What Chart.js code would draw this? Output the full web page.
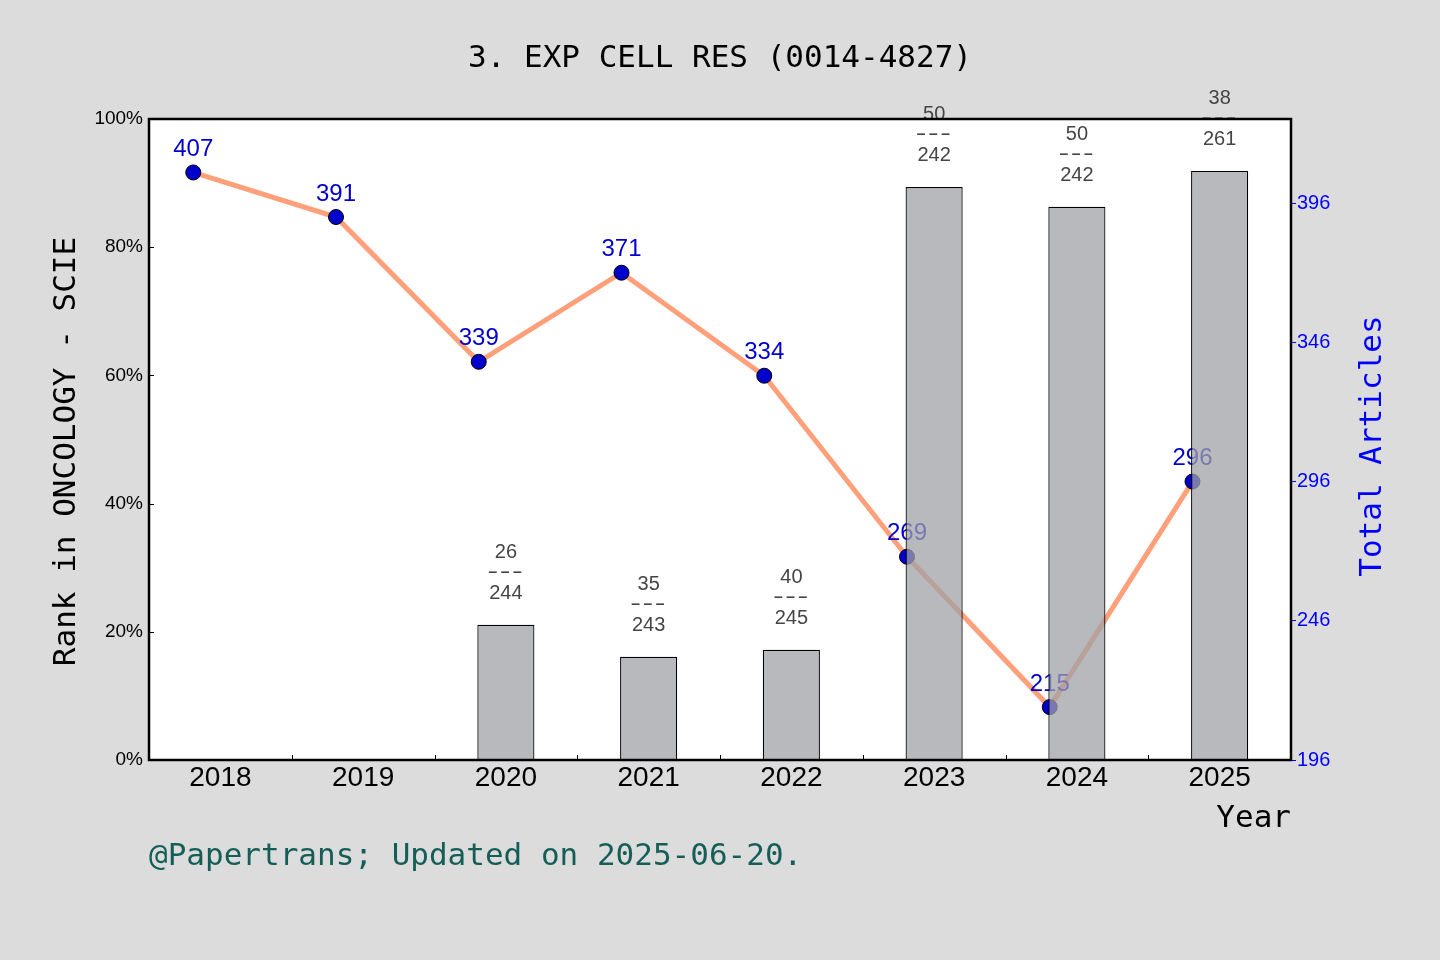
<!DOCTYPE html>
<html><head><meta charset="utf-8">
<script src="https://cdn.jsdelivr.net/npm/chart.js@4.4.1/dist/chart.umd.min.js"></script>
<style>html,body{margin:0;padding:0;background:#dcdcdc;overflow:hidden}</style>
</head><body>
<canvas id="c" width="1440" height="960"></canvas>
<script>
const years = ['2018','2019','2020','2021','2022','2023','2024','2025'];
const rankPct = [null, null, 21.1, 16.1, 17.2, 89.4, 86.3, 91.9];
const rankNum = [null, null, 26, 35, 40, 50, 50, 38];
const rankTotal = [null, null, 244, 243, 245, 242, 242, 261];
const totalArticles = [407, 391, 339, 371, 334, 269, 215, 296];
const leftTicks = [0, 20, 40, 60, 80, 100];
const rightTicks = [196, 246, 296, 346, 396];

const titleText = '3. EXP CELL RES (0014-4827)';
const leftTitle = 'Rank in ONCOLOGY - SCIE';
const rightTitle = 'Total Articles';
const xTitle = 'Year';
const footerText = '@Papertrans; Updated on 2025-06-20.';

const MONO = '31px "DejaVu Sans Mono", "Liberation Mono", monospace';
const SANS = '"Liberation Sans", Arial, sans-serif';

const deco = {
  id: 'deco',
  beforeDraw(chart) {
    const {ctx, chartArea: a} = chart;
    ctx.save();
    ctx.fillStyle = '#dcdcdc';
    ctx.fillRect(0, 0, chart.width, chart.height);
    ctx.fillStyle = '#ffffff';
    ctx.fillRect(a.left, a.top, a.right - a.left, a.bottom - a.top);
    ctx.restore();
  },
  afterDatasetDraw(chart, args) {
    if (chart.data.datasets[args.index].type !== 'line') return;
    const ctx = chart.ctx;
    ctx.save();
    ctx.font = '24px ' + SANS;
    ctx.fillStyle = '#0000cd';
    ctx.textAlign = 'center';
    ctx.textBaseline = 'middle';
    args.meta.data.forEach((el, i) => {
      ctx.fillText(String(totalArticles[i]), el.x, el.y - 23);
    });
    ctx.restore();
  },
  afterDatasetsDraw(chart) {
    const ctx = chart.ctx;
    const meta = chart.getDatasetMeta(0);
    ctx.save();
    ctx.font = '20px ' + SANS;
    ctx.fillStyle = '#454545';
    ctx.textAlign = 'center';
    ctx.textBaseline = 'middle';
    meta.data.forEach((el, i) => {
      if (rankNum[i] == null) return;
      const x = el.x, top = el.y;
      ctx.fillText(String(rankNum[i]), x, top - 72);
      ctx.save();
      ctx.translate(x, top - 52);
      ctx.scale(1.6, 1);
      ctx.letterSpacing = '1px';
      ctx.fillText('---', 0, 0);
      ctx.restore();
      ctx.fillText(String(rankTotal[i]), x, top - 31);
    });
    ctx.restore();
  },
  afterDraw(chart) {
    const {ctx, chartArea: a, scales} = chart;
    ctx.save();
    // inner tick marks
    ctx.strokeStyle = '#000';
    ctx.lineWidth = 1;
    ctx.beginPath();
    for (let i = 0; i < years.length - 1; i++) {
      const px = Math.round((scales.x.getPixelForValue(i) + scales.x.getPixelForValue(i + 1)) / 2) + 0.5;
      ctx.moveTo(px, a.bottom);
      ctx.lineTo(px, a.bottom - 5);
    }
    leftTicks.forEach(v => {
      if (v === 0 || v === 100) return;
      const py = Math.round(scales.y.getPixelForValue(v)) + 0.5;
      ctx.moveTo(a.left, py);
      ctx.lineTo(a.left + 5, py);
    });
    ctx.stroke();
    // plot border
    ctx.lineWidth = 2.5;
    ctx.strokeStyle = '#000';
    ctx.strokeRect(a.left, a.top, a.right - a.left, a.bottom - a.top);
    // texts
    ctx.font = MONO;
    ctx.textBaseline = 'middle';
    ctx.textAlign = 'center';
    ctx.fillStyle = '#000';
    ctx.fillText(titleText, (a.left + a.right) / 2, 59);
    ctx.save();
    ctx.translate(67, (a.top + a.bottom) / 2 + 12);
    ctx.rotate(-Math.PI / 2);
    ctx.fillText(leftTitle, 0, 0);
    ctx.restore();
    ctx.save();
    ctx.fillStyle = '#0000ff';
    ctx.translate(1373, 446);
    ctx.rotate(-Math.PI / 2);
    ctx.fillText(rightTitle, 0, 0);
    ctx.restore();
    ctx.textAlign = 'right';
    ctx.fillText(xTitle, a.right, 819);
    ctx.textAlign = 'left';
    ctx.fillStyle = '#155e58';
    ctx.fillText(footerText, 149, 857);
    ctx.restore();
  }
};

new Chart(document.getElementById('c'), {
  data: {
    labels: years,
    datasets: [
      {
        type: 'bar',
        data: rankPct,
        xAxisID: 'x',
        yAxisID: 'y',
        backgroundColor: 'rgba(160,162,165,0.75)',
        borderColor: '#000',
        borderWidth: 1.2,
        grouped: false,
        barPercentage: 0.4,
        categoryPercentage: 1,
        order: 0
      },
      {
        type: 'line',
        data: totalArticles.map((v, i) => ({x: i, y: v})),
        xAxisID: 'xLine',
        yAxisID: 'y2',
        borderColor: '#ffa07a',
        borderWidth: 5,
        tension: 0,
        pointRadius: 7.5,
        pointBackgroundColor: '#0000cd',
        pointBorderColor: '#000',
        pointBorderWidth: 1,
        order: 1
      }
    ]
  },
  options: {
    responsive: false,
    animation: false,
    devicePixelRatio: 1,
    layout: {padding: {top: 119, left: 0, right: 0, bottom: 0}},
    plugins: {legend: {display: false}, tooltip: {enabled: false}, title: {display: false}},
    scales: {
      x: {
        type: 'category', position: 'bottom', offset: true,
        grid: {display: false}, border: {display: false},
        afterFit: s => { s.height = 200; },
        ticks: {
          autoSkip: false, maxRotation: 0, padding: -7, color: '#000',
          font: {family: SANS, size: 28}
        }
      },
      xLine: {type: 'linear', display: false, min: -0.31, max: 7.69},
      y: {
        type: 'linear', position: 'left', min: 0, max: 100,
        afterBuildTicks: s => { s.ticks = leftTicks.map(v => ({value: v})); },
        afterFit: s => { s.width = 149; },
        grid: {drawOnChartArea: false, drawTicks: false}, border: {display: false},
        ticks: {padding: 6, color: '#000', font: {family: SANS, size: 19}, callback: v => v + '%'}
      },
      y2: {
        type: 'linear', position: 'right', min: 196, max: 426.2,
        afterBuildTicks: s => { s.ticks = rightTicks.map(v => ({value: v})); },
        afterFit: s => { s.width = 149; },
        grid: {drawOnChartArea: false, drawTicks: true, tickLength: 5, color: '#0000ff'},
        border: {display: false},
        ticks: {padding: 1, color: '#0000ff', font: {family: SANS, size: 20}}
      }
    }
  },
  plugins: [deco]
});
</script>
</body></html>
